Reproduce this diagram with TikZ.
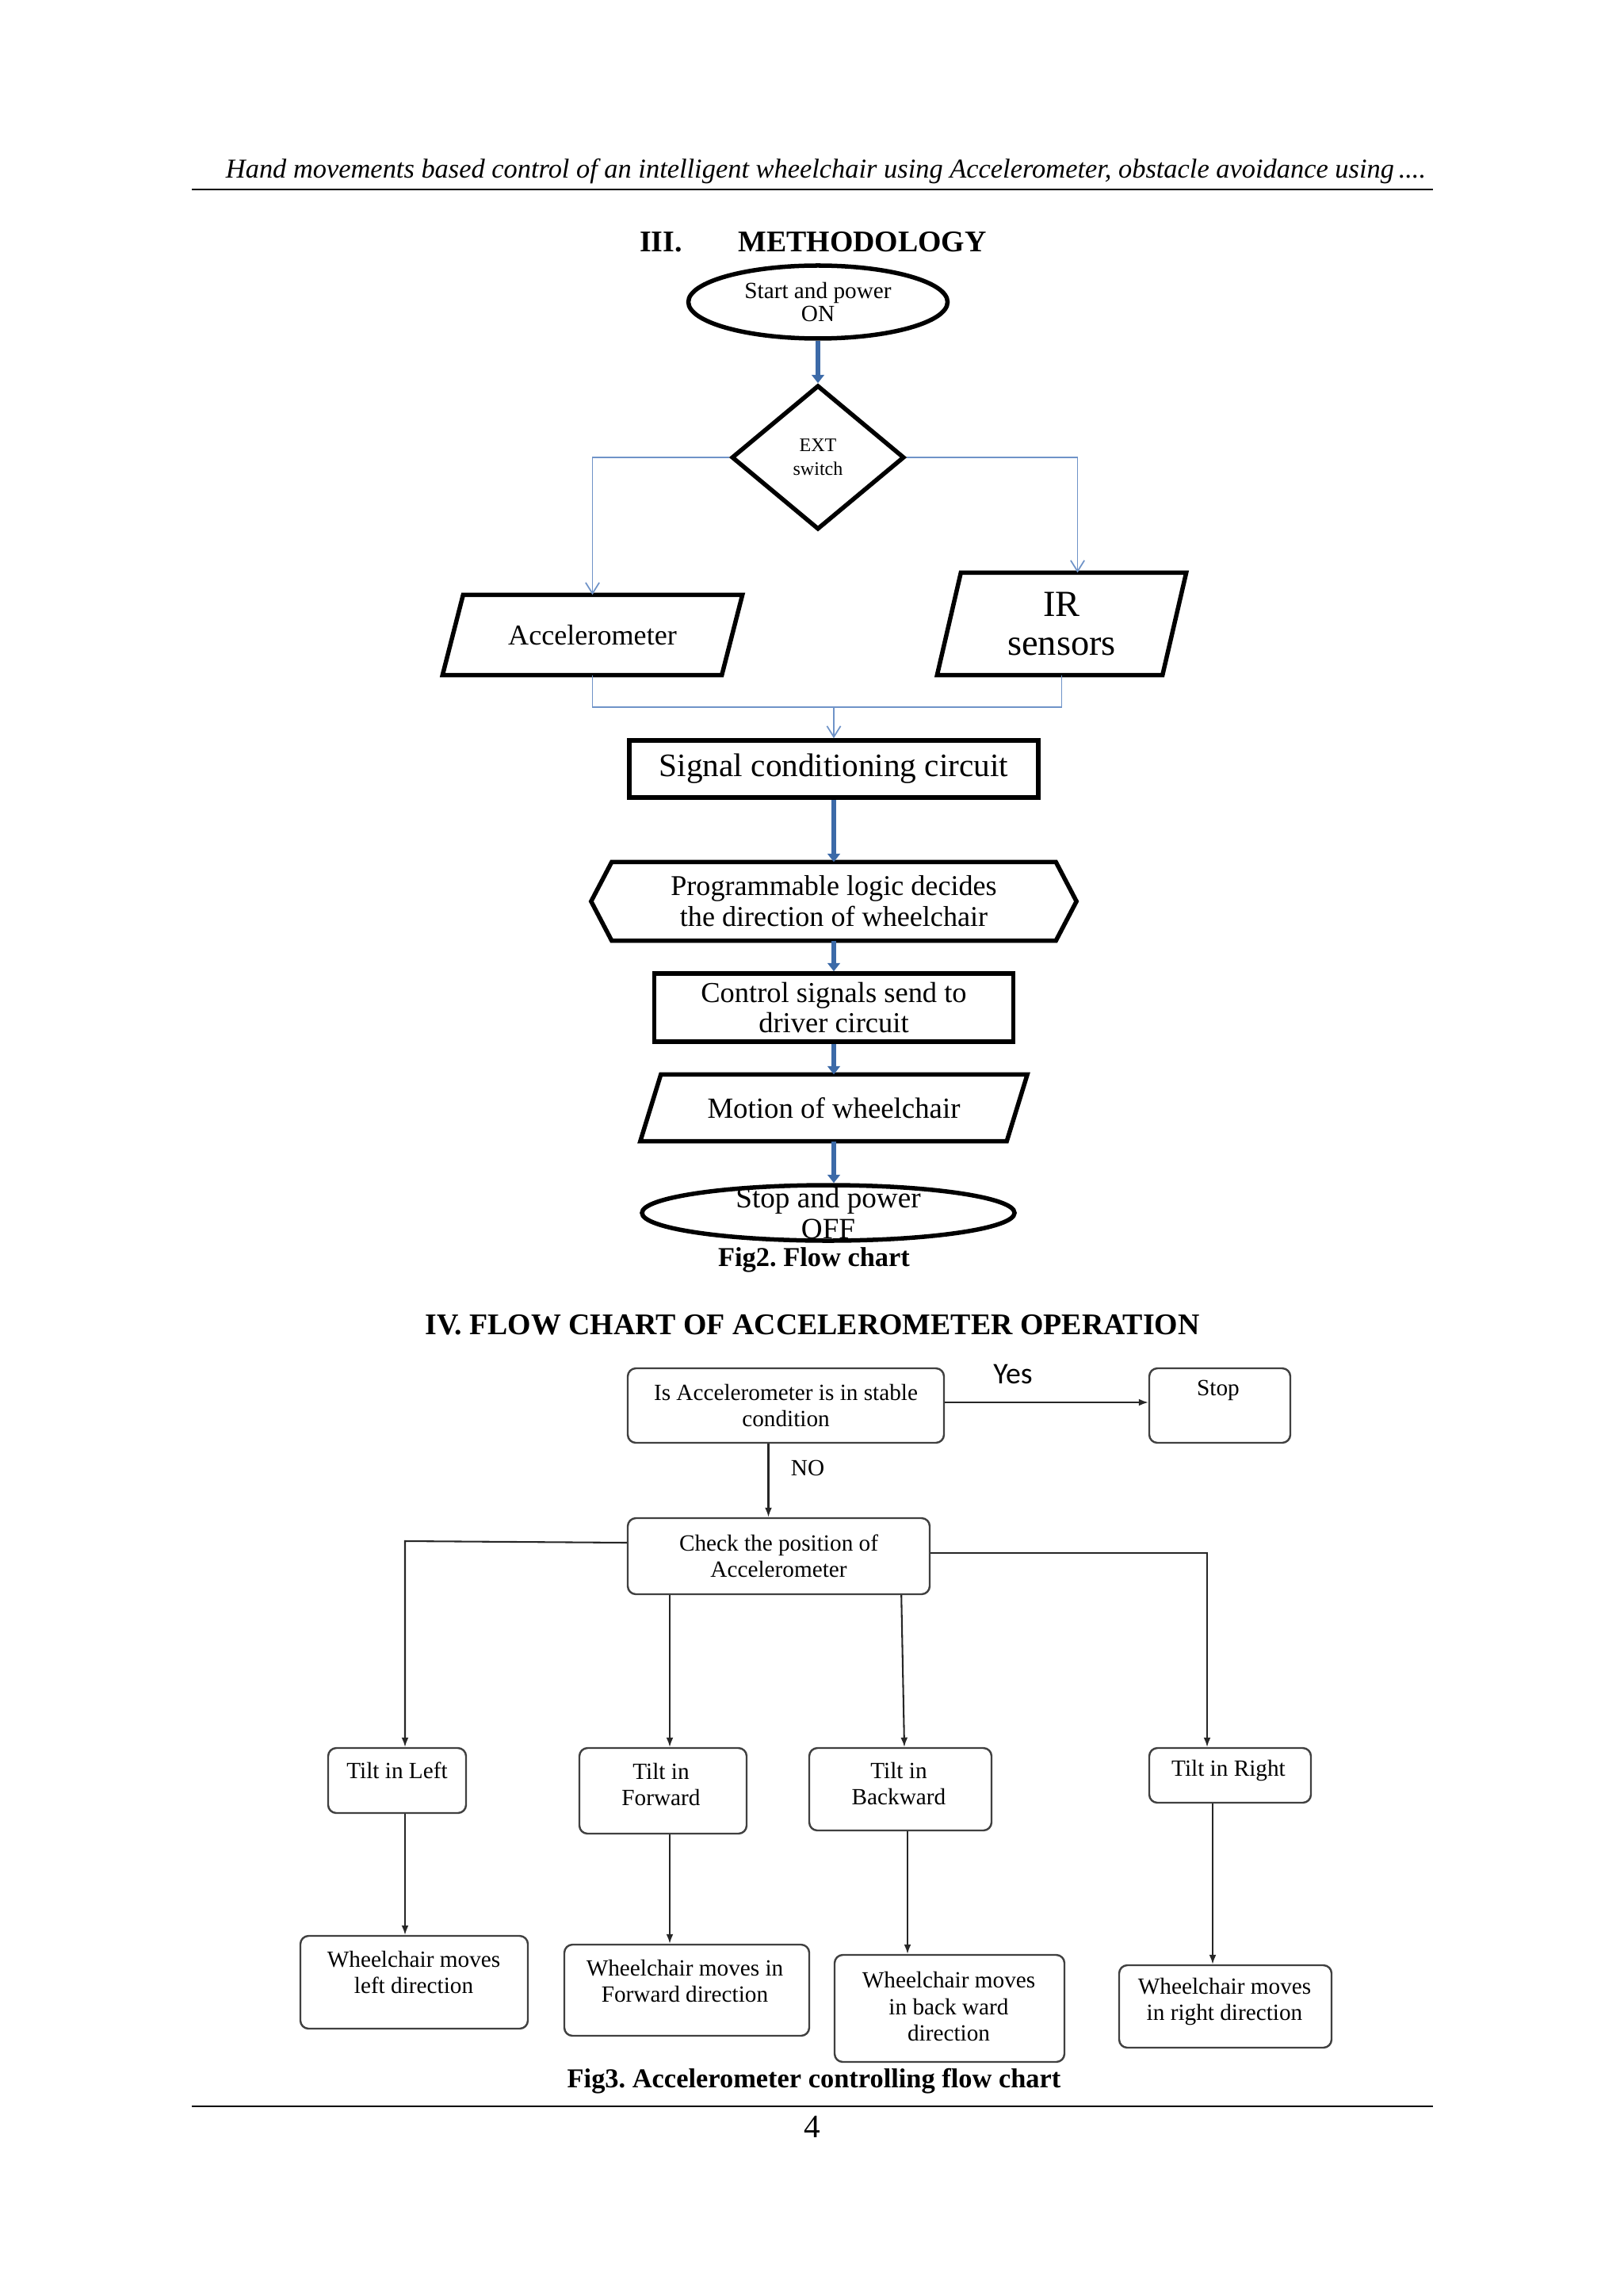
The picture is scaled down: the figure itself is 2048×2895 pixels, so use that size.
\documentclass[tikz,border=0pt]{standalone}
\usepackage{fontspec}
\setmainfont{Liberation Serif}
\newfontfamily\yesfont{Carlito}
\usetikzlibrary{shapes.geometric,arrows.meta,calc}
\frenchspacing
\newlength{\pxl}\setlength{\pxl}{0.2906pt}
\definecolor{arrowblue}{HTML}{3C6AA8}
\definecolor{lineblue}{HTML}{6F93C8}
\definecolor{boxgrey}{HTML}{404040}
\newcommand\parashape[2]{\draw[blk] ($(#1.north west)+(#2,0)$) -- ($(#1.north east)+(#2,0)$) -- ($(#1.south east)-(#2,0)$) -- ($(#1.south west)-(#2,0)$) -- cycle;}
\tikzset{
 blk/.style={line width=1.6pt, draw=black},
 thickarrow/.style={draw=arrowblue, line width=2pt, -{Triangle[length=3pt,width=4.5pt]}},
 thinblue/.style={draw=lineblue, line width=0.5pt},
 thinarrow/.style={thinblue, -{Straight Barb[length=4pt,width=5pt]}},
 plain/.style={inner sep=0, align=center},
 rbox/.style={draw=boxgrey, line width=0.7pt, rounded corners=3pt, inner sep=0},
 txttwo/.style={inner sep=0, align=center, font=\fontsize{8.5}{9.7}\selectfont},
 line2/.style={draw=black!85, line width=0.6pt},
 arr2/.style={line2, -{Latex[length=3.5pt,width=2.6pt]}},
 pagebold/.style={font=\bfseries\fontsize{11}{13}\selectfont},
 capbold/.style={font=\bfseries\fontsize{10}{12}\selectfont}
}
\begin{document}
\begin{tikzpicture}[x=0.2906pt,y=-0.2906pt]
\useasboundingbox[fill=white] (0,0) rectangle (2048,2895);

% ---- page furniture
\node[font=\fontsize{10}{12}\selectfont\itshape] (hdr) at (1042,216) {Hand movements based control of an intelligent wheelchair using Accelerometer, obstacle avoidance using\,....};
\coordinate (hl) at (242,239); \coordinate (hr) at (1808,239);
\draw[line width=0.8pt] (hl) -- (hr);
\node[pagebold] (sec3a) at (834,305) {III.};
\node[pagebold] (sec3b) at (1088,305) {METHODOLOGY};

% ---- chart 1
\node[ellipse, blk, minimum width=327\pxl, minimum height=92\pxl, plain, font=\fontsize{8.5}{8.7}\selectfont] (start) at (1032,381) {Start and power\\ON};
\node[diamond, blk, minimum width=218\pxl, minimum height=182\pxl, plain, font=\fontsize{7}{8.7}\selectfont] (dia) at (1032,577) {EXT\\switch};

\node[minimum width=351\pxl, minimum height=100\pxl, plain, font=\fontsize{10.5}{12}\selectfont] (acc) at (747.5,801) {Accelerometer};
\parashape{acc}{13}
\node[minimum width=283\pxl, minimum height=128\pxl, plain, font=\fontsize{13.5}{14.5}\selectfont] (ir) at (1339.5,787) {IR\\sensors};
\parashape{ir}{15}

\node[rectangle, blk, minimum width=516\pxl, minimum height=72\pxl, plain, font=\fontsize{12}{13}\selectfont] (sig) at (1052,970) {Signal conditioning circuit};

\node[minimum width=559\pxl, minimum height=98\pxl, plain, font=\fontsize{10.5}{11.3}\selectfont] (hex) at (1052,1137) {Programmable logic decides\\the direction of wheelchair};
\draw[blk] (hex.north west) -- (hex.north east) -- ($(hex.east)+(26,0)$) -- (hex.south east) -- (hex.south west) -- ($(hex.west)+(-26,0)$) -- cycle;

\node[rectangle, blk, minimum width=453\pxl, minimum height=86\pxl, plain, font=\fontsize{10.6}{11.3}\selectfont] (ctl) at (1052,1271) {Control signals send to\\driver circuit};

\node[minimum width=461\pxl, minimum height=83\pxl, plain, font=\fontsize{10.7}{12}\selectfont] (mot) at (1052,1397.5) {Motion of wheelchair};
\parashape{mot}{13}

\node[ellipse, blk, minimum width=470\pxl, minimum height=70\pxl, inner sep=0] (off) at (1045,1530) {};
\node[plain, font=\fontsize{10.8}{11.3}\selectfont] (offtxt) at (1045,1530) {Stop and power\\OFF};

% blue connectors
\draw[thinarrow] (dia.west) -| (acc.north);
\draw[thinarrow] (dia.east) -| ($(ir.north)+(20,0)$);
\coordinate (join) at (1052,892);
\draw[thinblue] (acc.south) |- (join) -| (ir.south);
\draw[thinarrow] (join) -- (sig.north);

\draw[thickarrow] (start.south) -- (dia.north);
\draw[thickarrow] (sig.south) -- (hex.north);
\draw[thickarrow] (hex.south) -- (ctl.north);
\draw[thickarrow] (ctl.south) -- (mot.north);
\draw[thickarrow] (mot.south) -- (mot.south |- off.north);

\node[capbold] (fig2) at (1027,1589) {Fig2. Flow chart};
\node[pagebold] (sec4) at (1025,1671) {IV. FLOW CHART OF ACCELEROMETER OPERATION};

% ---- chart 2
\node[rbox, minimum width=399\pxl, minimum height=94\pxl, txttwo] (stable) at (991.5,1773) {Is Accelerometer is in stable\\condition};
\node[rbox, minimum width=178\pxl, minimum height=94\pxl] (stopb) at (1539,1773) {};
\node[txttwo] (stoptxt) at (1537,1754) {Stop};
\node[rbox, minimum width=381\pxl, minimum height=96\pxl, txttwo] (check) at (982.5,1963) {Check the position of\\Accelerometer};

\draw[arr2] ($(stable.east)+(0,-4)$) -- ($(stopb.west)+(0,-4)$);
\node[font=\yesfont\fontsize{11}{13}\selectfont] (yes) at (1278,1733) {Yes};
\draw[arr2] ($(stable.south)+(-22,0)$) coordinate (n0) -- (n0 |- check.north);
\node[txttwo] (no) at (1019,1852) {NO};

\node[rbox, minimum width=174\pxl, minimum height=82\pxl] (tl) at (501,2246) {};
\node[txttwo] (tltxt) at (501,2233) {Tilt in Left};
\node[rbox, minimum width=211\pxl, minimum height=108\pxl] (tf) at (836.5,2259) {};
\node[txttwo] (tftxt) at (834,2251) {Tilt in\\Forward};
\node[rbox, minimum width=230\pxl, minimum height=104\pxl] (tb) at (1136,2257) {};
\node[txttwo] (tbtxt) at (1134,2250) {Tilt in\\Backward};
\node[rbox, minimum width=204\pxl, minimum height=69\pxl] (tr) at (1552,2239.5) {};
\node[txttwo] (trtxt) at (1550,2233) {Tilt in Right};

\node[rbox, minimum width=287\pxl, minimum height=117\pxl] (wl) at (522.5,2500.5) {};
\node[txttwo] (wltxt) at (522,2488) {Wheelchair moves\\left direction};
\node[rbox, minimum width=309\pxl, minimum height=115\pxl] (wf) at (866.5,2510.5) {};
\node[txttwo] (wftxt) at (864,2499) {Wheelchair moves in\\Forward direction};
\node[rbox, minimum width=290\pxl, minimum height=135\pxl] (wb) at (1198,2533.5) {};
\node[txttwo] (wbtxt) at (1197,2531) {Wheelchair moves\\in back ward\\direction};
\node[rbox, minimum width=268\pxl, minimum height=104\pxl] (wr) at (1546,2531) {};
\node[txttwo] (wrtxt) at (1545,2525) {Wheelchair moves\\in right direction};

% connectors chart 2
\coordinate (lc) at (511,1944);
\draw[arr2] ($(check.west)+(0,-17)$) -- (lc) -- (lc |- tl.north);
\draw[arr2] (lc |- tl.south) -- (lc |- wl.north);
\coordinate (fx) at (845,2000);
\draw[arr2] (fx |- check.south) -- (fx |- tf.north);
\draw[arr2] (fx |- tf.south) -- (fx |- wf.north);
\draw[arr2] ($(check.south east)+(-37,0)$) -- ($(tb.north)+(5,0)$);
\coordinate (bx) at (1145,2300);
\draw[arr2] (bx |- tb.south) -- (bx |- wb.north);
\coordinate (rx) at (1523,1959);
\draw[arr2] ($(check.east)+(0,-4)$) -- (rx) -- (rx |- tr.north);
\coordinate (rx2) at (1530,2300);
\draw[arr2] (rx2 |- tr.south) -- (rx2 |- wr.north);

\node[capbold] (fig3) at (1027,2625) {Fig3. Accelerometer controlling flow chart};
\coordinate (fl) at (242,2657); \coordinate (fr) at (1808,2657);
\draw[line width=0.8pt] (fl) -- (fr);
\node[font=\fontsize{12}{14}\selectfont] (pgno) at (1025,2683) {4};
\end{tikzpicture}
\end{document}
